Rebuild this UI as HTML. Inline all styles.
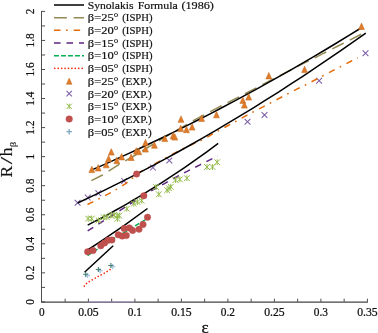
<!DOCTYPE html>
<html><head><meta charset="utf-8"><title>chart</title>
<style>html,body{margin:0;padding:0;background:#fff}svg{display:block}</style>
</head><body>
<svg width="378" height="333" viewBox="0 0 378 333">
<g stroke="#444" stroke-width="0.95" fill="none">
<path d="M41.5 10.9 V302.4"/><path d="M41 302 H367.9" stroke-width="1.25"/>
<path d="M41.9 301.9 h3.2 M41.9 287.38 h3.2 M41.9 272.85 h3.2 M41.9 258.32 h3.2 M41.9 243.8 h3.2 M41.9 229.27 h3.2 M41.9 214.75 h3.2 M41.9 200.22 h3.2 M41.9 185.7 h3.2 M41.9 171.17 h3.2 M41.9 156.65 h3.2 M41.9 142.12 h3.2 M41.9 127.6 h3.2 M41.9 113.07 h3.2 M41.9 98.55 h3.2 M41.9 84.02 h3.2 M41.9 69.5 h3.2 M41.9 54.97 h3.2 M41.9 40.45 h3.2 M41.9 25.92 h3.2 M41.9 11.4 h3.2 M65.15 301.9 v-3.2 M88.4 301.9 v-3.2 M111.65 301.9 v-3.2 M134.9 301.9 v-3.2 M158.15 301.9 v-3.2 M181.4 301.9 v-3.2 M204.65 301.9 v-3.2 M227.9 301.9 v-3.2 M251.15 301.9 v-3.2 M274.4 301.9 v-3.2 M297.65 301.9 v-3.2 M320.9 301.9 v-3.2 M344.15 301.9 v-3.2 M367.4 301.9 v-3.2"/>
</g>
<line x1="88.4" y1="301.9" x2="134.5" y2="301.9" stroke="#b09adc" stroke-width="1.1" opacity="0.55"/>
<g font-family="'Liberation Serif', 'DejaVu Serif', serif" font-size="11.6" fill="#111" stroke="#111" stroke-width="0.24">
<text x="39.1" y="315.8" textLength="5.6" lengthAdjust="spacingAndGlyphs">0</text>
<text x="78.15" y="315.8" textLength="20.5" lengthAdjust="spacingAndGlyphs">0.05</text>
<text x="127.8" y="315.8" textLength="14.2" lengthAdjust="spacingAndGlyphs">0.1</text>
<text x="171.15" y="315.8" textLength="20.5" lengthAdjust="spacingAndGlyphs">0.15</text>
<text x="220.8" y="315.8" textLength="14.2" lengthAdjust="spacingAndGlyphs">0.2</text>
<text x="264.15" y="315.8" textLength="20.5" lengthAdjust="spacingAndGlyphs">0.25</text>
<text x="313.8" y="315.8" textLength="14.2" lengthAdjust="spacingAndGlyphs">0.3</text>
<text x="357.15" y="315.8" textLength="20.5" lengthAdjust="spacingAndGlyphs">0.35</text>
<text transform="translate(34.3,304.7) rotate(-90)" textLength="5.6" lengthAdjust="spacingAndGlyphs">0</text>
<text transform="translate(34.3,279.95) rotate(-90)" textLength="14.2" lengthAdjust="spacingAndGlyphs">0.2</text>
<text transform="translate(34.3,250.9) rotate(-90)" textLength="14.2" lengthAdjust="spacingAndGlyphs">0.4</text>
<text transform="translate(34.3,221.85) rotate(-90)" textLength="14.2" lengthAdjust="spacingAndGlyphs">0.6</text>
<text transform="translate(34.3,192.8) rotate(-90)" textLength="14.2" lengthAdjust="spacingAndGlyphs">0.8</text>
<text transform="translate(34.3,159.45) rotate(-90)" textLength="5.6" lengthAdjust="spacingAndGlyphs">1</text>
<text transform="translate(34.3,134.7) rotate(-90)" textLength="14.2" lengthAdjust="spacingAndGlyphs">1.2</text>
<text transform="translate(34.3,105.65) rotate(-90)" textLength="14.2" lengthAdjust="spacingAndGlyphs">1.4</text>
<text transform="translate(34.3,76.6) rotate(-90)" textLength="14.2" lengthAdjust="spacingAndGlyphs">1.6</text>
<text transform="translate(34.3,47.55) rotate(-90)" textLength="14.2" lengthAdjust="spacingAndGlyphs">1.8</text>
<text transform="translate(34.3,14.2) rotate(-90)" textLength="5.6" lengthAdjust="spacingAndGlyphs">2</text>
</g>
<text x="201.6" y="332.6" font-family="'Liberation Serif', 'DejaVu Serif', serif" font-size="17" fill="#111" stroke="#111" stroke-width="0.3">ε</text>
<text transform="translate(12.4,177.6) rotate(-90)" font-family="'Liberation Serif', 'DejaVu Serif', serif" fill="#111" stroke="#111" stroke-width="0.12" font-size="16"><tspan x="0" y="0" textLength="11.6" lengthAdjust="spacingAndGlyphs">R</tspan><tspan x="13.4" y="0" textLength="7.4" lengthAdjust="spacingAndGlyphs">/</tspan><tspan x="21.4" y="0" textLength="8.6" lengthAdjust="spacingAndGlyphs">h</tspan><tspan x="30.3" y="3.7" font-size="9.2" textLength="5.6" lengthAdjust="spacingAndGlyphs">β</tspan></text>
<path d="M74.7 199.8 L80.5 205.6 M74.7 205.6 L80.5 199.8" stroke="#7c5ea8" stroke-width="1.05" fill="none"/>
<path d="M84.9 194.7 L90.7 200.5 M84.9 200.5 L90.7 194.7" stroke="#7c5ea8" stroke-width="1.05" fill="none"/>
<path d="M95.4 190.4 L101.2 196.2 M95.4 196.2 L101.2 190.4" stroke="#7c5ea8" stroke-width="1.05" fill="none"/>
<path d="M121.2 178 L127 183.8 M121.2 183.8 L127 178" stroke="#7c5ea8" stroke-width="1.05" fill="none"/>
<path d="M150 164.7 L155.8 170.5 M150 170.5 L155.8 164.7" stroke="#7c5ea8" stroke-width="1.05" fill="none"/>
<path d="M166.4 157.6 L172.2 163.4 M166.4 163.4 L172.2 157.6" stroke="#7c5ea8" stroke-width="1.05" fill="none"/>
<path d="M244.6 118.9 L250.4 124.7 M244.6 124.7 L250.4 118.9" stroke="#7c5ea8" stroke-width="1.05" fill="none"/>
<path d="M261.6 112.1 L267.4 117.9 M261.6 117.9 L267.4 112.1" stroke="#7c5ea8" stroke-width="1.05" fill="none"/>
<path d="M316.2 77.8 L322 83.6 M316.2 83.6 L322 77.8" stroke="#7c5ea8" stroke-width="1.05" fill="none"/>
<path d="M362.6 50.4 L368.4 56.2 M362.6 56.2 L368.4 50.4" stroke="#7c5ea8" stroke-width="1.05" fill="none"/>
<path d="M91.4 180.7 L102.5 175 L119.2 164.4 L137.5 153.9 L149.6 146.4 L165 137.2 L180 128.3 L197 118.6 L216 108.6 L233.5 99.7 L250 91.2 L266.7 82.4 L302.5 63.9 L322 54.2 L338 46 L361.3 34.2" stroke="#948a54" stroke-width="1.5" stroke-dasharray="12.9 6.72" fill="none"/>
<path d="M93 169.4 L104.62 164.32 L116.23 159.14 L127.85 153.87 L139.47 148.5 L151.09 143.04 L162.7 137.48 L174.32 131.83 L185.94 126.09 L197.56 120.24 L209.17 114.31 L220.79 108.28 L232.41 102.15 L244.03 95.93 L255.64 89.61 L267.26 83.2 L278.88 76.7 L290.5 70.1 L302.11 63.4 L313.73 56.61 L325.35 49.73 L336.97 42.75 L348.58 35.68 L360.2 28.51" stroke="#000" stroke-width="1.5" fill="none"/>
<path d="M87.5 204.5 L99 198.8 L107.9 194.2 L116.5 189.4 L124.5 184.5 L140 172.2 L157 162.7 L175 152.8 L192.3 144.3 L201.2 140.4 L209.9 135.6 L218.2 130.8 L227.3 126 L235.7 121.4 L243.9 116.8 L296.7 89.2 L305.3 85 L351.4 61 L357.8 57.8" stroke="#e46c0a" stroke-width="1.5" stroke-dasharray="6.5 5.5 1.7 5.98" fill="none"/>
<path d="M87.7 230.8 L106 219.3 L124.4 207.7 L137 199.6 L150 191.6 L164 183.8 L178.3 175.8 L200 164.8 L217.7 156" stroke="#5f2580" stroke-width="1.5" stroke-dasharray="6.6 5.9" fill="none"/>
<path d="M77.6 203.04 L90.13 197.13 L102.66 191.08 L115.19 184.9 L127.72 178.59 L140.25 172.14 L152.78 165.55 L165.31 158.83 L177.84 151.98 L190.37 144.99 L202.9 137.87 L215.43 130.61 L227.97 123.22 L240.5 115.69 L253.03 108.03 L265.56 100.23 L278.09 92.3 L290.62 84.24 L303.15 76.04 L315.68 67.7 L328.21 59.23 L340.74 50.63 L353.27 41.89 L365.8 33.02" stroke="#000" stroke-width="1.5" fill="none"/>
<path d="M87.7 225.06 L93.37 222.17 L99.05 219.21 L104.72 216.2 L110.4 213.13 L116.07 209.99 L121.74 206.8 L127.42 203.55 L133.09 200.24 L138.77 196.87 L144.44 193.44 L150.11 189.95 L155.79 186.41 L161.46 182.8 L167.13 179.13 L172.81 175.41 L178.48 171.62 L184.16 167.78 L189.83 163.88 L195.5 159.92 L201.18 155.89 L206.85 151.81 L212.53 147.67 L218.2 143.47" stroke="#000" stroke-width="1.5" fill="none"/>
<path d="M87.6 250 L100 241.9 L125 224.8 L147.5 208.5" stroke="#000" stroke-width="1.5" fill="none"/>
<path d="M84.55 272.2 L113.2 245.8" stroke="#000" stroke-width="1.5" fill="none"/>
<path d="M87.5 255.5 L97.2 249.4 L115.3 237.6 L125.5 231.8 L137.6 224.3 L145.4 219.7" stroke="#00b050" stroke-width="1.5" stroke-dasharray="4.9 2.1" fill="none"/>
<path d="M84.3 286.1 L86.9 283 L89.8 281.2 L92.8 279.5 L95.8 277.8 L98.4 276.2 L101.7 274.6 L104.7 272.9 L107.7 271.1 L111 268.9" stroke="#f52a0e" stroke-width="1.7" stroke-linecap="round" stroke-dasharray="0.01 3.41" fill="none"/>
<path d="M85.2 215.7 L91 221.5 M85.2 221.5 L91 215.7 M88.1 215.7 L88.1 221.5" stroke="#94bb4c" stroke-width="1.0" fill="none"/>
<path d="M88.8 215.7 L94.6 221.5 M88.8 221.5 L94.6 215.7 M91.7 215.7 L91.7 221.5" stroke="#94bb4c" stroke-width="1.0" fill="none"/>
<path d="M95.7 217.4 L101.5 223.2 M95.7 223.2 L101.5 217.4 M98.6 217.4 L98.6 223.2" stroke="#94bb4c" stroke-width="1.0" fill="none"/>
<path d="M100.8 214.4 L106.6 220.2 M100.8 220.2 L106.6 214.4 M103.7 214.4 L103.7 220.2" stroke="#94bb4c" stroke-width="1.0" fill="none"/>
<path d="M103.9 214.1 L109.7 219.9 M103.9 219.9 L109.7 214.1 M106.8 214.1 L106.8 219.9" stroke="#94bb4c" stroke-width="1.0" fill="none"/>
<path d="M107.9 212.5 L113.7 218.3 M107.9 218.3 L113.7 212.5 M110.8 212.5 L110.8 218.3" stroke="#94bb4c" stroke-width="1.0" fill="none"/>
<path d="M111.1 212 L116.9 217.8 M111.1 217.8 L116.9 212 M114 212 L114 217.8" stroke="#94bb4c" stroke-width="1.0" fill="none"/>
<path d="M114.3 212.8 L120.1 218.6 M114.3 218.6 L120.1 212.8 M117.2 212.8 L117.2 218.6" stroke="#94bb4c" stroke-width="1.0" fill="none"/>
<path d="M114.5 215.9 L120.3 221.7 M114.5 221.7 L120.3 215.9 M117.4 215.9 L117.4 221.7" stroke="#94bb4c" stroke-width="1.0" fill="none"/>
<path d="M116.3 212.7 L122.1 218.5 M116.3 218.5 L122.1 212.7 M119.2 212.7 L119.2 218.5" stroke="#94bb4c" stroke-width="1.0" fill="none"/>
<path d="M123.9 205.9 L129.7 211.7 M123.9 211.7 L129.7 205.9 M126.8 205.9 L126.8 211.7" stroke="#94bb4c" stroke-width="1.0" fill="none"/>
<path d="M130.9 200.7 L136.7 206.5 M130.9 206.5 L136.7 200.7 M133.8 200.7 L133.8 206.5" stroke="#94bb4c" stroke-width="1.0" fill="none"/>
<path d="M134.5 199.1 L140.3 204.9 M134.5 204.9 L140.3 199.1 M137.4 199.1 L137.4 204.9" stroke="#94bb4c" stroke-width="1.0" fill="none"/>
<path d="M138.8 197.7 L144.6 203.5 M138.8 203.5 L144.6 197.7 M141.7 197.7 L141.7 203.5" stroke="#94bb4c" stroke-width="1.0" fill="none"/>
<path d="M153.1 184.2 L158.9 190 M153.1 190 L158.9 184.2 M156 184.2 L156 190" stroke="#94bb4c" stroke-width="1.0" fill="none"/>
<path d="M155.9 191.4 L161.7 197.2 M155.9 197.2 L161.7 191.4 M158.8 191.4 L158.8 197.2" stroke="#94bb4c" stroke-width="1.0" fill="none"/>
<path d="M164.2 187.3 L170 193.1 M164.2 193.1 L170 187.3 M167.1 187.3 L167.1 193.1" stroke="#94bb4c" stroke-width="1.0" fill="none"/>
<path d="M166.1 185.4 L171.9 191.2 M166.1 191.2 L171.9 185.4 M169 185.4 L169 191.2" stroke="#94bb4c" stroke-width="1.0" fill="none"/>
<path d="M167.8 183.9 L173.6 189.7 M167.8 189.7 L173.6 183.9 M170.7 183.9 L170.7 189.7" stroke="#94bb4c" stroke-width="1.0" fill="none"/>
<path d="M172.6 177.1 L178.4 182.9 M172.6 182.9 L178.4 177.1 M175.5 177.1 L175.5 182.9" stroke="#94bb4c" stroke-width="1.0" fill="none"/>
<path d="M176.9 176.4 L182.7 182.2 M176.9 182.2 L182.7 176.4 M179.8 176.4 L179.8 182.2" stroke="#94bb4c" stroke-width="1.0" fill="none"/>
<path d="M184 175.3 L189.8 181.1 M184 181.1 L189.8 175.3 M186.9 175.3 L186.9 181.1" stroke="#94bb4c" stroke-width="1.0" fill="none"/>
<path d="M204.1 164.1 L209.9 169.9 M204.1 169.9 L209.9 164.1 M207 164.1 L207 169.9" stroke="#94bb4c" stroke-width="1.0" fill="none"/>
<path d="M209.6 164.1 L215.4 169.9 M209.6 169.9 L215.4 164.1 M212.5 164.1 L212.5 169.9" stroke="#94bb4c" stroke-width="1.0" fill="none"/>
<path d="M214.3 159.3 L220.1 165.1 M214.3 165.1 L220.1 159.3 M217.2 159.3 L217.2 165.1" stroke="#94bb4c" stroke-width="1.0" fill="none"/>
<path d="M91.8 166.2 L94.7 172.6 L88.9 172.6 Z" fill="#de7c2c" stroke="#c96c1e" stroke-width="0.6" stroke-linejoin="round"/>
<path d="M98.2 164.6 L101.1 171 L95.3 171 Z" fill="#de7c2c" stroke="#c96c1e" stroke-width="0.6" stroke-linejoin="round"/>
<path d="M106.2 161.4 L109.1 167.8 L103.3 167.8 Z" fill="#de7c2c" stroke="#c96c1e" stroke-width="0.6" stroke-linejoin="round"/>
<path d="M108.6 155.4 L111.5 161.8 L105.7 161.8 Z" fill="#de7c2c" stroke="#c96c1e" stroke-width="0.6" stroke-linejoin="round"/>
<path d="M111.3 148.7 L114.2 155.1 L108.4 155.1 Z" fill="#de7c2c" stroke="#c96c1e" stroke-width="0.6" stroke-linejoin="round"/>
<path d="M116.8 157.3 L119.7 163.7 L113.9 163.7 Z" fill="#de7c2c" stroke="#c96c1e" stroke-width="0.6" stroke-linejoin="round"/>
<path d="M121.6 153.5 L124.5 159.9 L118.7 159.9 Z" fill="#de7c2c" stroke="#c96c1e" stroke-width="0.6" stroke-linejoin="round"/>
<path d="M131.2 154.1 L134.1 160.5 L128.3 160.5 Z" fill="#de7c2c" stroke="#c96c1e" stroke-width="0.6" stroke-linejoin="round"/>
<path d="M136.3 147.7 L139.2 154.1 L133.4 154.1 Z" fill="#de7c2c" stroke="#c96c1e" stroke-width="0.6" stroke-linejoin="round"/>
<path d="M138.8 148.3 L141.7 154.7 L135.9 154.7 Z" fill="#de7c2c" stroke="#c96c1e" stroke-width="0.6" stroke-linejoin="round"/>
<path d="M145.5 139.4 L148.4 145.8 L142.6 145.8 Z" fill="#de7c2c" stroke="#c96c1e" stroke-width="0.6" stroke-linejoin="round"/>
<path d="M145.5 145.7 L148.4 152.1 L142.6 152.1 Z" fill="#de7c2c" stroke="#c96c1e" stroke-width="0.6" stroke-linejoin="round"/>
<path d="M154.4 141.8 L157.3 148.2 L151.5 148.2 Z" fill="#de7c2c" stroke="#c96c1e" stroke-width="0.6" stroke-linejoin="round"/>
<path d="M164.8 135.2 L167.7 141.6 L161.9 141.6 Z" fill="#de7c2c" stroke="#c96c1e" stroke-width="0.6" stroke-linejoin="round"/>
<path d="M173.1 132.5 L176 138.9 L170.2 138.9 Z" fill="#de7c2c" stroke="#c96c1e" stroke-width="0.6" stroke-linejoin="round"/>
<path d="M174.8 133.7 L177.7 140.1 L171.9 140.1 Z" fill="#de7c2c" stroke="#c96c1e" stroke-width="0.6" stroke-linejoin="round"/>
<path d="M181 115.9 L183.9 122.3 L178.1 122.3 Z" fill="#de7c2c" stroke="#c96c1e" stroke-width="0.6" stroke-linejoin="round"/>
<path d="M180.7 125.2 L183.6 131.6 L177.8 131.6 Z" fill="#de7c2c" stroke="#c96c1e" stroke-width="0.6" stroke-linejoin="round"/>
<path d="M186.5 126.3 L189.4 132.7 L183.6 132.7 Z" fill="#de7c2c" stroke="#c96c1e" stroke-width="0.6" stroke-linejoin="round"/>
<path d="M192.1 123.7 L195 130.1 L189.2 130.1 Z" fill="#de7c2c" stroke="#c96c1e" stroke-width="0.6" stroke-linejoin="round"/>
<path d="M201.6 115 L204.5 121.4 L198.7 121.4 Z" fill="#de7c2c" stroke="#c96c1e" stroke-width="0.6" stroke-linejoin="round"/>
<path d="M216.5 111.4 L219.4 117.8 L213.6 117.8 Z" fill="#de7c2c" stroke="#c96c1e" stroke-width="0.6" stroke-linejoin="round"/>
<path d="M242.8 97 L245.7 103.4 L239.9 103.4 Z" fill="#de7c2c" stroke="#c96c1e" stroke-width="0.6" stroke-linejoin="round"/>
<path d="M244.4 101.7 L247.3 108.1 L241.5 108.1 Z" fill="#de7c2c" stroke="#c96c1e" stroke-width="0.6" stroke-linejoin="round"/>
<path d="M248.7 93.7 L251.6 100.1 L245.8 100.1 Z" fill="#de7c2c" stroke="#c96c1e" stroke-width="0.6" stroke-linejoin="round"/>
<path d="M268.8 72.5 L271.7 78.9 L265.9 78.9 Z" fill="#de7c2c" stroke="#c96c1e" stroke-width="0.6" stroke-linejoin="round"/>
<path d="M304.6 66.2 L307.5 72.6 L301.7 72.6 Z" fill="#de7c2c" stroke="#c96c1e" stroke-width="0.6" stroke-linejoin="round"/>
<path d="M361.5 23.1 L364.4 29.5 L358.6 29.5 Z" fill="#de7c2c" stroke="#c96c1e" stroke-width="0.6" stroke-linejoin="round"/>
<circle cx="87.6" cy="251.8" r="3.25" fill="#c0504d" stroke="#be4b48" stroke-width="0.4"/>
<circle cx="93" cy="250.6" r="3.25" fill="#c0504d" stroke="#be4b48" stroke-width="0.4"/>
<circle cx="100.8" cy="245.8" r="3.25" fill="#c0504d" stroke="#be4b48" stroke-width="0.4"/>
<circle cx="104.5" cy="243" r="3.25" fill="#c0504d" stroke="#be4b48" stroke-width="0.4"/>
<circle cx="108.2" cy="240.2" r="3.25" fill="#c0504d" stroke="#be4b48" stroke-width="0.4"/>
<circle cx="111.9" cy="240" r="3.25" fill="#c0504d" stroke="#be4b48" stroke-width="0.4"/>
<circle cx="118.2" cy="234.8" r="3.25" fill="#c0504d" stroke="#be4b48" stroke-width="0.4"/>
<circle cx="122.2" cy="236.1" r="3.25" fill="#c0504d" stroke="#be4b48" stroke-width="0.4"/>
<circle cx="126.3" cy="235.6" r="3.25" fill="#c0504d" stroke="#be4b48" stroke-width="0.4"/>
<circle cx="124.2" cy="228.6" r="3.25" fill="#c0504d" stroke="#be4b48" stroke-width="0.4"/>
<circle cx="129.3" cy="227.9" r="3.25" fill="#c0504d" stroke="#be4b48" stroke-width="0.4"/>
<circle cx="132.6" cy="230.4" r="3.25" fill="#c0504d" stroke="#be4b48" stroke-width="0.4"/>
<circle cx="139" cy="229.2" r="3.25" fill="#c0504d" stroke="#be4b48" stroke-width="0.4"/>
<circle cx="143" cy="224.5" r="3.25" fill="#c0504d" stroke="#be4b48" stroke-width="0.4"/>
<circle cx="147.5" cy="217.3" r="3.25" fill="#c0504d" stroke="#be4b48" stroke-width="0.4"/>
<circle cx="143.8" cy="195.8" r="3.25" fill="#c0504d" stroke="#be4b48" stroke-width="0.4"/>
<circle cx="136.6" cy="174.1" r="3.25" fill="#c0504d" stroke="#be4b48" stroke-width="0.4"/>
<path d="M84.8 275.5 L90 275.5 M87.4 272.9 L87.4 278.1" stroke="#a9c6e2" stroke-width="1.3" fill="none"/>
<path d="M97.5 270.7 L102.7 270.7 M100.1 268.1 L100.1 273.3" stroke="#a9c6e2" stroke-width="1.3" fill="none"/>
<path d="M110 266.7 L115.2 266.7 M112.6 264.1 L112.6 269.3" stroke="#a9c6e2" stroke-width="1.3" fill="none"/>
<path d="M83.1 274.3 L88.3 274.3 M85.7 271.7 L85.7 276.9" stroke="#4a8272" stroke-width="1.1" fill="none"/>
<path d="M95.8 269.5 L101 269.5 M98.4 266.9 L98.4 272.1" stroke="#4a8272" stroke-width="1.1" fill="none"/>
<path d="M108.3 265.5 L113.5 265.5 M110.9 262.9 L110.9 268.1" stroke="#4a8272" stroke-width="1.1" fill="none"/>
<line x1="54" y1="5" x2="84" y2="5" stroke="#000" stroke-width="1.5"/>
<line x1="54" y1="17.67" x2="84" y2="17.67" stroke="#948a54" stroke-width="1.5" stroke-dasharray="12.9 6.72"/>
<line x1="54" y1="30.34" x2="84" y2="30.34" stroke="#e46c0a" stroke-width="1.5" stroke-dasharray="6.5 5.5 1.7 5.98"/>
<line x1="54" y1="43.01" x2="84" y2="43.01" stroke="#5f2580" stroke-width="1.5" stroke-dasharray="6.6 5.9"/>
<line x1="54" y1="55.68" x2="84" y2="55.68" stroke="#00b050" stroke-width="1.5" stroke-dasharray="4.9 2.1"/>
<line x1="54.8" y1="68.35" x2="84" y2="68.35" stroke="#f52a0e" stroke-width="1.7" stroke-dasharray="0.01 3.41" stroke-linecap="round"/>
<path d="M69.2 78.22 L71.93 84.23 L66.47 84.23 Z" fill="#de7c2c" stroke="#c96c1e" stroke-width="0.6" stroke-linejoin="round"/>
<path d="M66.5 90.99 L71.9 96.39 M66.5 96.39 L71.9 90.99" stroke="#7c5ea8" stroke-width="1.05" fill="none"/>
<path d="M66.5 103.66 L71.9 109.06 M66.5 109.06 L71.9 103.66 M69.2 103.66 L69.2 109.06" stroke="#94bb4c" stroke-width="1.0" fill="none"/>
<circle cx="69.2" cy="119.03" r="3.3" fill="#c0504d" stroke="#be4b48" stroke-width="0.4"/>
<path d="M66.5 131.7 L71.9 131.7 M69.2 129 L69.2 134.4" stroke="#7ba6c0" stroke-width="1.3" fill="none"/>
<g font-family="'Liberation Serif', 'DejaVu Serif', serif" font-size="11.4" fill="#111" stroke="#111" stroke-width="0.2">
<text y="8.5"><tspan x="87.7" textLength="45.9" lengthAdjust="spacingAndGlyphs">Synolakis</tspan> <tspan x="137.7" textLength="40.1" lengthAdjust="spacingAndGlyphs">Formula</tspan> <tspan x="181.5" textLength="32.4" lengthAdjust="spacingAndGlyphs">(1986)</tspan></text>
<text y="21.22"><tspan x="87.8" textLength="30.8" lengthAdjust="spacingAndGlyphs">β=25°</tspan> <tspan x="122.3" textLength="30.2" lengthAdjust="spacingAndGlyphs">(ISPH)</tspan></text>
<text y="84.82"><tspan x="87.8" textLength="30.8" lengthAdjust="spacingAndGlyphs">β=25°</tspan> <tspan x="121.8" textLength="29.9" lengthAdjust="spacingAndGlyphs">(EXP.)</tspan></text>
<text y="33.94"><tspan x="87.8" textLength="30.8" lengthAdjust="spacingAndGlyphs">β=20°</tspan> <tspan x="122.3" textLength="30.2" lengthAdjust="spacingAndGlyphs">(ISPH)</tspan></text>
<text y="97.54"><tspan x="87.8" textLength="30.8" lengthAdjust="spacingAndGlyphs">β=20°</tspan> <tspan x="121.8" textLength="29.9" lengthAdjust="spacingAndGlyphs">(EXP.)</tspan></text>
<text y="46.66"><tspan x="87.8" textLength="30.8" lengthAdjust="spacingAndGlyphs">β=15°</tspan> <tspan x="122.3" textLength="30.2" lengthAdjust="spacingAndGlyphs">(ISPH)</tspan></text>
<text y="110.26"><tspan x="87.8" textLength="30.8" lengthAdjust="spacingAndGlyphs">β=15°</tspan> <tspan x="121.8" textLength="29.9" lengthAdjust="spacingAndGlyphs">(EXP.)</tspan></text>
<text y="59.38"><tspan x="87.8" textLength="30.8" lengthAdjust="spacingAndGlyphs">β=10°</tspan> <tspan x="122.3" textLength="30.2" lengthAdjust="spacingAndGlyphs">(ISPH)</tspan></text>
<text y="122.98"><tspan x="87.8" textLength="30.8" lengthAdjust="spacingAndGlyphs">β=10°</tspan> <tspan x="121.8" textLength="29.9" lengthAdjust="spacingAndGlyphs">(EXP.)</tspan></text>
<text y="72.1"><tspan x="87.8" textLength="30.8" lengthAdjust="spacingAndGlyphs">β=05°</tspan> <tspan x="122.3" textLength="30.2" lengthAdjust="spacingAndGlyphs">(ISPH)</tspan></text>
<text y="135.7"><tspan x="87.8" textLength="30.8" lengthAdjust="spacingAndGlyphs">β=05°</tspan> <tspan x="121.8" textLength="29.9" lengthAdjust="spacingAndGlyphs">(EXP.)</tspan></text>
</g>
</svg>
</body></html>
